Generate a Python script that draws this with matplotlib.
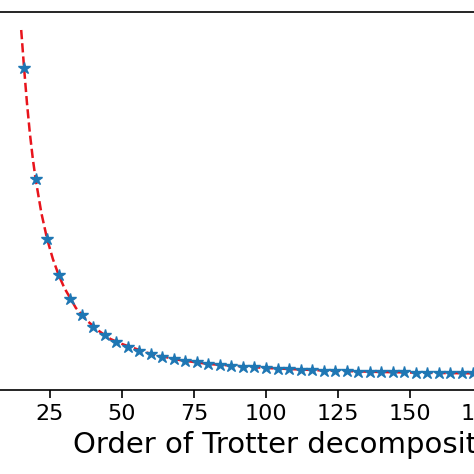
import matplotlib
matplotlib.use('Agg')
import matplotlib.pyplot as plt

# Trotter order (markers) and the error (arbitrary units)
orders = [16, 20, 24, 28, 32, 36, 40, 44, 48, 52, 56, 60, 64, 68, 72, 76,
          80, 84, 88, 92, 96, 100, 104, 108, 112, 116, 120, 124, 128, 132,
          136, 140, 144, 148, 152, 156, 160, 164, 168, 172, 176, 180]
errors = [0.322, 0.211, 0.151, 0.115, 0.091, 0.075, 0.063, 0.055, 0.048,
          0.043, 0.039, 0.036, 0.033, 0.031, 0.029, 0.028, 0.026, 0.025,
          0.024, 0.023, 0.0226, 0.0219, 0.0213, 0.0208, 0.0203, 0.0199,
          0.0195, 0.0191, 0.0188, 0.0185, 0.0183, 0.0180, 0.0178, 0.0176,
          0.0174, 0.0172, 0.0171, 0.0169, 0.0168, 0.0167, 0.0165, 0.0164]

# fitted curve (dashed)
fit_x = [15, 16, 17, 18, 19, 20, 22, 24, 26, 28, 30, 34, 38, 42, 46, 50,
         60, 70, 80, 100, 120, 140, 160, 180, 200, 220]
fit_y = [0.36, 0.322, 0.287, 0.257, 0.232, 0.211, 0.177, 0.151, 0.131,
         0.115, 0.102, 0.082, 0.069, 0.059, 0.051, 0.046, 0.036, 0.030,
         0.026, 0.022, 0.0195, 0.018, 0.017, 0.0164, 0.016, 0.0156]

W = 474
left_px, right_px = -20, 614   # axes extends past the cropped edges
fig = plt.figure(figsize=(4.74, 4.74), dpi=100)
ax = fig.add_axes([left_px / W, 1 - 390 / W, (right_px - left_px) / W,
                   (390 - 12) / W])

ax.plot(fit_x, fit_y, '--', color='#e8141c', lw=1.8, zorder=2)
ax.plot(orders, errors, '*', color='#1f77b4', ms=9, zorder=3)

ax.set_xlim((left_px + 22) / 2.88, (right_px + 22) / 2.88)
ax.set_ylim(0, 0.378)
ax.set_xticks([25, 50, 75, 100, 125, 150, 175, 200])
ax.set_yticks([])
ax.tick_params(axis='x', labelsize=16, length=6, width=1.2, pad=4)
for s in ax.spines.values():
    s.set_linewidth(1.2)
ax.set_xlabel('Order of Trotter decomposition', fontsize=21, labelpad=5)

fig.savefig('out.png', dpi=100)
